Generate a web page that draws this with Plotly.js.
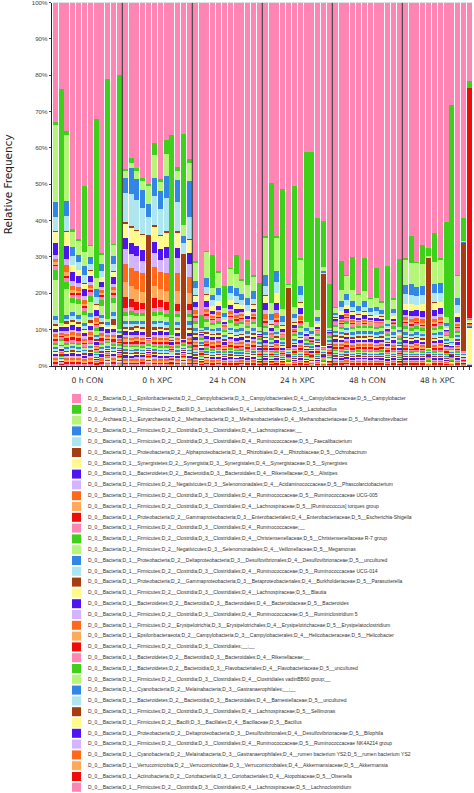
<!DOCTYPE html>
<html>
<head>
<meta charset="utf-8">
<script src="https://cdn.plot.ly/plotly-3.0.1.min.js"></script>
<style>
html,body{margin:0;padding:0;background:#ffffff;}
#chart{width:474px;height:793px;}
</style>
</head>
<body>
<div id="chart"></div>
<script>
// Sample groups (12 samples each) and taxa, top of the stack first
const groups = ['0 h CON', '0 h XPC', '24 h CON', '24 h XPC', '48 h CON', '48 h XPC'];
const samplesPerGroup = [12, 12, 12, 12, 12, 12];

const taxa = [
  'D_0__Bacteria;D_1__Epsilonbacteraeota;D_2__Campylobacteria;D_3__Campylobacterales;D_4__Campylobacteraceae;D_5__Campylobacter',
  'D_0__Bacteria;D_1__Firmicutes;D_2__Bacilli;D_3__Lactobacillales;D_4__Lactobacillaceae;D_5__Lactobacillus',
  'D_0__Archaea;D_1__Euryarchaeota;D_2__Methanobacteria;D_3__Methanobacteriales;D_4__Methanobacteriaceae;D_5__Methanobrevibacter',
  'D_0__Bacteria;D_1__Firmicutes;D_2__Clostridia;D_3__Clostridiales;D_4__Lachnospiraceae;__',
  'D_0__Bacteria;D_1__Firmicutes;D_2__Clostridia;D_3__Clostridiales;D_4__Ruminococcaceae;D_5__Faecalibacterium',
  'D_0__Bacteria;D_1__Proteobacteria;D_2__Alphaproteobacteria;D_3__Rhizobiales;D_4__Rhizobiaceae;D_5__Ochrobactrum',
  'D_0__Bacteria;D_1__Synergistetes;D_2__Synergistia;D_3__Synergistales;D_4__Synergistaceae;D_5__Synergistes',
  'D_0__Bacteria;D_1__Bacteroidetes;D_2__Bacteroidia;D_3__Bacteroidales;D_4__Rikenellaceae;D_5__Alistipes',
  'D_0__Bacteria;D_1__Firmicutes;D_2__Negativicutes;D_3__Selenomonadales;D_4__Acidaminococcaceae;D_5__Phascolarctobacterium',
  'D_0__Bacteria;D_1__Firmicutes;D_2__Clostridia;D_3__Clostridiales;D_4__Ruminococcaceae;D_5__Ruminococcaceae UCG-005',
  'D_0__Bacteria;D_1__Firmicutes;D_2__Clostridia;D_3__Clostridiales;D_4__Lachnospiraceae;D_5__[Ruminococcus] torques group',
  'D_0__Bacteria;D_1__Proteobacteria;D_2__Gammaproteobacteria;D_3__Enterobacteriales;D_4__Enterobacteriaceae;D_5__Escherichia-Shigella',
  'D_0__Bacteria;D_1__Firmicutes;D_2__Clostridia;D_3__Clostridiales;D_4__Ruminococcaceae;__',
  'D_0__Bacteria;D_1__Firmicutes;D_2__Clostridia;D_3__Clostridiales;D_4__Christensenellaceae;D_5__Christensenellaceae R-7 group',
  'D_0__Bacteria;D_1__Firmicutes;D_2__Negativicutes;D_3__Selenomonadales;D_4__Veillonellaceae;D_5__Megamonas',
  'D_0__Bacteria;D_1__Proteobacteria;D_2__Deltaproteobacteria;D_3__Desulfovibrionales;D_4__Desulfovibrionaceae;D_5__uncultured',
  'D_0__Bacteria;D_1__Firmicutes;D_2__Clostridia;D_3__Clostridiales;D_4__Ruminococcaceae;D_5__Ruminococcaceae UCG-014',
  'D_0__Bacteria;D_1__Proteobacteria;D_2__Gammaproteobacteria;D_3__Betaproteobacteriales;D_4__Burkholderiaceae;D_5__Parasutterella',
  'D_0__Bacteria;D_1__Firmicutes;D_2__Clostridia;D_3__Clostridiales;D_4__Lachnospiraceae;D_5__Blautia',
  'D_0__Bacteria;D_1__Bacteroidetes;D_2__Bacteroidia;D_3__Bacteroidales;D_4__Bacteroidaceae;D_5__Bacteroides',
  'D_0__Bacteria;D_1__Firmicutes;D_2__Clostridia;D_3__Clostridiales;D_4__Ruminococcaceae;D_5__Ruminiclostridium 5',
  'D_0__Bacteria;D_1__Firmicutes;D_2__Erysipelotrichia;D_3__Erysipelotrichales;D_4__Erysipelotrichaceae;D_5__Erysipelatoclostridium',
  'D_0__Bacteria;D_1__Epsilonbacteraeota;D_2__Campylobacteria;D_3__Campylobacterales;D_4__Helicobacteraceae;D_5__Helicobacter',
  'D_0__Bacteria;D_1__Firmicutes;D_2__Clostridia;D_3__Clostridiales;__;__',
  'D_0__Bacteria;D_1__Bacteroidetes;D_2__Bacteroidia;D_3__Bacteroidales;D_4__Rikenellaceae;__',
  'D_0__Bacteria;D_1__Bacteroidetes;D_2__Bacteroidia;D_3__Flavobacteriales;D_4__Flavobacteriaceae;D_5__uncultured',
  'D_0__Bacteria;D_1__Firmicutes;D_2__Clostridia;D_3__Clostridiales;D_4__Clostridiales vadinBB60 group;__',
  'D_0__Bacteria;D_1__Cyanobacteria;D_2__Melainabacteria;D_3__Gastranaerophilales;__;__',
  'D_0__Bacteria;D_1__Bacteroidetes;D_2__Bacteroidia;D_3__Bacteroidales;D_4__Barnesiellaceae;D_5__uncultured',
  'D_0__Bacteria;D_1__Firmicutes;D_2__Clostridia;D_3__Clostridiales;D_4__Lachnospiraceae;D_5__Sellimonas',
  'D_0__Bacteria;D_1__Firmicutes;D_2__Bacilli;D_3__Bacillales;D_4__Bacillaceae;D_5__Bacillus',
  'D_0__Bacteria;D_1__Proteobacteria;D_2__Deltaproteobacteria;D_3__Desulfovibrionales;D_4__Desulfovibrionaceae;D_5__Bilophila',
  'D_0__Bacteria;D_1__Firmicutes;D_2__Clostridia;D_3__Clostridiales;D_4__Ruminococcaceae;D_5__Ruminococcaceae NK4A214 group',
  'D_0__Bacteria;D_1__Cyanobacteria;D_2__Melainabacteria;D_3__Gastranaerophilales;D_4__rumen bacterium YS2;D_5__rumen bacterium YS2',
  'D_0__Bacteria;D_1__Verrucomicrobia;D_2__Verrucomicrobiae;D_3__Verrucomicrobiales;D_4__Akkermansiaceae;D_5__Akkermansia',
  'D_0__Bacteria;D_1__Actinobacteria;D_2__Coriobacteriia;D_3__Coriobacteriales;D_4__Atopobiaceae;D_5__Olsenella',
  'D_0__Bacteria;D_1__Firmicutes;D_2__Clostridia;D_3__Clostridiales;D_4__Lachnospiraceae;D_5__Lachnoclostridium'
];

// 12-colour cycle used for the taxa
const palette = ['#ff85b5', '#3dd219', '#b5f57a', '#3286e6', '#aee6f0', '#a63c0f',
                 '#fffa8c', '#5014f0', '#d2b4ff', '#ff6919', '#ffaa5a', '#f00a0a'];

// Relative abundance (%) per sample, 6 groups x 12 samples
const campylobacter = [
  33,24,35,63,65,50,67,32,69,21,66,20,
  45.6,42.7,45.6,48,50,38.7,48.5,37.5,36.5,45,36,43,
  71,85.5,68.5,69.2,74,78,73,69.2,76,70.6,75,76.8,
  64,49.3,64,51,77.2,50.5,70,41,41,59.3,60,77,
  83.7,70.8,75,69.7,80,70,81,72.8,82,72.4,81,70.3,
  70,64,71,66.7,67.2,63.4,70,60.3,28,75,59,21.5];
const lactobacillus = [
  0.8,65,1,0.8,0.5,18,0.5,44,0.4,66,0.5,70,
  0.6,1.3,0.8,0.8,0.5,3.1,0.8,4,55,1,25,1,
  0.5,3.8,0.4,9,0.5,6,0.5,5,0.4,7,0.5,12,
  0.5,33,0.5,33,0.4,33,0.5,47,48,25,12.5,12,
  0.2,8,0.3,9,0.3,9,0.3,8,0.3,15,0.3,18.5,
  0.4,7.4,0.4,5,2.3,8,0.4,26,64,0.4,6.4,2];
const methanobrevibacter = [
  21,0.3,18,4,4,4,3,3,2.5,0.8,3,0.5,
  2,1.5,2,2.5,5,6.4,2.5,6,0.5,2.5,3,4.8,
  5,0.5,7,2,4,1.5,4.5,4,3.5,3.5,4,1,
  10,3,9,2,0.3,2,7,1.5,1.2,2,1,0.6,
  1.5,3,5,3,3,3,2.5,2.5,2,1,2.5,1,
  7,6,6.5,6,0.3,6,6.5,1.5,1,6,0.3,0];
const lachnospiraceaeNA = [
  4.4,0.2,4,2.5,2,2.5,2,2,2,0.8,2.2,0.4,
  4,7,6,5,3.5,5,5,6,0.3,6,2,10,
  2,0.3,2.5,1.5,2,1,2,2.2,1.8,2,2,0.4,
  3,1.5,3,1.5,0.2,1.2,2.5,0.8,0.8,1.2,0.5,0.3,
  0.6,1.5,1.5,1.5,1.2,1.5,1.1,1.2,1,0.6,1.1,0.5,
  2.5,2.8,2.5,2.5,0.1,2.5,2.5,0.8,0.5,2,0.2,0];
const faecalibacterium = [
  3.6,0.2,4,2.5,2,2,1.5,2,1.5,0.5,1.8,0.3,
  8,9,8,7,5,8,7,9,0.5,8,3,6,
  2,0.3,2,1.5,1.5,0.8,1.8,1.8,1.3,1.5,1.5,0.3,
  2.5,1.2,3,1,0.2,1,2,0.6,0.5,0.8,0.5,0.2,
  0.5,1.2,1.5,1.2,1,1.2,0.9,1,0.8,0.5,0.9,0.4,
  2.5,2.5,2.3,2.5,0.1,2.5,2.5,0.6,0.4,2,0.1,0];
const ochrobactrum = [
  0.3,0.1,0.3,0.2,0.2,0.2,0.2,0.2,0.2,0.1,0.2,0.1,
  0.5,0.5,0.4,0.4,28.2,0.5,0.4,0.5,0.1,0.5,23.4,0.4,
  0.2,0.1,0.2,0.1,0.2,0.1,0.2,0.2,0.1,0.1,0.1,0.1,
  0.3,0.2,0.2,0.2,16.2,0.2,0.2,0.1,0.1,0.1,19.7,0.1,
  0.1,0.1,0.1,0.1,0.1,0.1,0.1,0.1,0.1,0.1,0.1,0.1,
  0.2,0.2,0.2,0.2,24.8,0.2,0.2,0.1,0.1,0.1,29.5,0];
const synergistes = [
  3.2,0.1,4,2,1.5,1.5,1.5,1.5,1.2,0.4,1.5,0.3,
  4,4,4,4,0.2,4,3.5,4,0.3,4,0.3,3.5,
  1.5,0.2,1.8,1.2,1.2,0.6,1.2,1.5,1,1.2,1.1,0.2,
  2,0.8,2.5,0.7,0.1,0.7,1.5,0.3,0.3,0.6,0.1,0.1,
  0.4,1,1,1,0.8,1,0.7,0.8,0.6,0.3,0.7,0.2,
  1.5,1.8,1.4,1.8,0.1,2,1.6,0.4,0.2,1.2,0.1,0];
const alistipes = [
  3.2,1.2,3.5,2.5,2,2,1.6,1.5,1.5,1.2,1.8,0.8,
  3,3,3,3,0.3,3,3,3,0.8,3,0.4,3,
  1.5,0.3,1.5,1,1.2,0.6,1.2,1.2,1,0.9,1,0.3,
  2,1,2,1,0.1,0.8,1.5,0.5,0.6,0.7,0.2,0.2,
  0.4,1,1,1,0.7,0.9,0.6,0.7,0.5,0.4,0.6,0.2,
  1.5,1.5,1.4,1.6,0.1,1.6,1.6,0.4,0.3,1.2,0.1,0];
const phascolarctobacterium = [
  1,0.5,1.5,1.2,1,1,0.8,0.8,0.7,0.5,0.8,0.4,
  4,4,4,3.5,0.2,4,3.5,4,0.5,4,0.1,3.5,
  0.8,0.1,0.7,0.4,0.5,0.3,0.6,0.5,0.4,0.3,0.4,0.1,
  1,0.4,1,0.3,0,0.3,0.7,0.1,0.1,0.2,0,0.1,
  0.2,0.4,0.4,0.4,0.3,0.4,0.2,0.3,0.2,0.1,0.2,0.1,
  0.6,0.7,0.6,0.7,0,0.7,0.7,0.1,0.1,0.5,0,0];
const ucg005 = [
  1,0.6,2,1.3,1.2,1,1,1,0.9,0.6,1,0.5,
  5,5,5,5,0.3,5,4.5,5,0.5,5,0.1,4.5,
  1,0.2,0.9,0.6,0.8,0.4,0.8,0.7,0.6,0.5,0.6,0.1,
  1.2,0.6,1.2,0.4,0,0.4,0.9,0.2,0.2,0.3,0.1,0.1,
  0.2,0.5,0.5,0.5,0.3,0.5,0.3,0.4,0.3,0.2,0.3,0.1,
  0.8,0.9,0.8,0.9,0,1,0.9,0.2,0.1,0.6,0,0];
const torques = [
  0.8,0.4,1,0.7,0.6,0.6,0.5,0.5,0.5,0.4,0.6,0.2,
  4,3.5,3.5,3,0.2,3.5,3,3,0.3,3.5,0,3,
  0.7,0.1,0.5,0.3,0.5,0.2,0.4,0.4,0.4,0.2,0.4,0.1,
  0.8,0.2,0.6,0.2,0,0.2,0.5,0.1,0.2,0.2,0,0,
  0.1,0.3,0.3,0.3,0.2,0.3,0.2,0.2,0.1,0.1,0.1,0,
  0.5,0.6,0.4,0.6,0,0.5,0.5,0.1,0.1,0.4,0,0];
const escherichia = [
  0.3,0.2,0.5,0.5,0.5,0.5,0.5,0.4,0.5,0.3,0.6,0.2,
  3,2.2,2.2,1.7,0.1,2.8,2.1,2.3,0.2,1.8,0,1.5,
  0.5,0.1,0.4,0.3,0.4,0.2,0.4,0.4,0.3,0.2,0.4,0.1,
  0.5,0.2,0.5,0.1,0,0.1,0.4,0.1,0.1,0.1,0,0,
  0,0.3,0.3,0.2,0.1,0.2,0.1,0.1,0.1,0,0.1,0,
  0.3,0.4,0.3,0.4,0,0.4,0.4,0,0,0.3,0,63.5];
const ruminococcaceaeNA = [
  1.0,0.6,1.2,0.8,1.0,0.9,1.1,0.7,1.0,0.5,0.9,0.4,
  1.2,1.0,0.9,1.1,0.6,1.0,1.2,0.9,0.3,1.0,0.5,1.1,
  0.8,0.4,0.9,0.7,0.8,0.5,0.9,0.7,0.8,0.7,0.8,0.4,
  0.7,0.5,0.8,0.5,0.4,0.6,0.8,0.4,0.4,0.6,0.4,0.5,
  0.6,0.7,0.8,0.7,0.6,0.7,0.6,0.7,0.6,0.5,0.7,0.5,
  0.8,0.7,0.8,0.6,0.3,0.7,0.8,0.6,0.3,0.7,0.3,0.2];
const christensenellaceae = [
  2.8,0.5,2.0,1.5,1.5,1.2,1.8,0.8,1.6,0.5,1.4,0.4,
  1.0,1.2,0.8,1.0,0.4,1.1,0.9,1.0,0.3,0.8,0.4,0.9,
  0.8,0.5,0.9,0.7,0.8,0.6,0.8,0.7,0.8,0.6,0.7,0.5,
  0.7,0.5,0.8,0.5,0.3,0.6,0.7,0.5,0.4,0.5,0.3,0.5,
  0.7,0.6,0.8,0.7,0.7,0.6,0.7,0.6,0.7,0.5,0.7,0.5,
  0.7,0.6,0.7,0.6,0.2,0.6,0.7,0.5,0.3,0.5,0.2,0.2];
const megamonas = [
  10,1.0,7,2.5,3,2,3,1.2,2.5,0.8,2.5,0.6,
  1.5,1.5,1.2,1.4,0.6,1.3,1.5,1.2,0.4,1.3,0.5,1.2,
  1.2,0.6,1.3,1.0,1.1,0.8,1.2,1.0,1.1,0.9,1.0,0.6,
  1.0,0.6,1.1,0.6,0.4,0.7,1.0,0.5,0.5,0.7,0.4,0.6,
  1.0,0.8,1.0,0.9,0.9,0.8,0.9,0.8,0.9,0.6,0.9,0.6,
  0.9,0.8,0.9,0.8,0.3,0.8,0.9,0.7,0.4,0.7,0.3,0.3];
const desulfoUncultured = [
  1.1,0.4,0.9,1.2,1.0,0.8,1.1,0.6,0.9,0.4,1.0,0.3,
  0.8,1.0,0.9,0.8,0.4,1.0,0.8,0.9,0.2,0.9,0.3,1.0,
  0.7,0.5,0.8,0.7,0.8,0.6,0.7,0.8,0.7,0.7,0.8,0.5,
  0.7,0.5,0.6,0.5,0.3,0.6,0.7,0.4,0.4,0.5,0.3,0.6,
  0.7,0.6,0.8,0.7,0.7,0.7,0.6,0.7,0.8,0.5,0.7,0.5,
  0.7,0.6,0.7,0.7,0.3,0.6,0.7,0.5,0.3,0.6,0.2,0.2];
const ucg014 = [
  0.9,0.4,0.8,1.0,0.9,0.8,0.9,0.5,0.9,0.3,0.8,0.3,
  0.8,0.9,0.7,0.8,0.3,0.8,0.9,0.8,0.2,0.8,0.3,0.9,
  0.7,0.4,0.7,0.6,0.7,0.5,0.7,0.6,0.7,0.6,0.7,0.4,
  0.6,0.4,0.7,0.4,0.3,0.5,0.6,0.4,0.4,0.5,0.3,0.5,
  0.6,0.6,0.7,0.6,0.6,0.7,0.6,0.6,0.6,0.5,0.6,0.4,
  0.6,0.6,0.6,0.6,0.3,0.6,0.6,0.5,0.3,0.5,0.2,0.2];
const parasutterella = [
  0.6,0.2,0.6,0.7,0.6,0.5,0.6,0.4,0.6,0.2,1.8,0.2,
  0.5,0.6,0.5,0.5,0.2,0.6,0.5,0.5,0.1,0.5,0.2,0.5,
  0.4,0.3,0.5,0.4,0.4,0.4,0.5,0.4,0.4,0.4,0.4,0.3,
  0.4,0.3,0.4,0.3,0.2,0.3,0.4,0.3,0.2,0.3,0.2,0.3,
  0.4,0.4,0.5,0.4,0.4,0.4,0.4,0.4,0.4,0.3,0.4,0.3,
  0.4,0.4,0.4,0.4,0.2,0.4,0.4,0.3,0.2,0.4,0.1,0.1];
const blautia = [
  0.8,0.3,0.9,0.7,0.8,0.7,0.8,0.5,0.8,0.3,0.9,0.3,
  0.7,0.7,0.8,0.7,0.3,0.7,0.8,0.7,0.2,0.7,0.3,0.7,
  0.6,0.4,0.6,0.6,0.6,0.5,0.6,0.6,0.6,0.6,0.6,0.4,
  0.6,0.4,0.5,0.4,0.2,0.4,0.6,0.4,0.3,0.4,0.2,0.4,
  0.6,0.6,0.6,0.5,0.6,0.5,0.6,0.6,0.5,0.4,0.6,0.4,
  0.6,0.5,0.6,0.5,0.2,0.5,0.6,0.4,0.2,0.5,0.2,0.2];
const bacteroides = [
  0.9,0.5,1.0,1.3,1.1,0.9,1.2,0.6,1.1,0.4,0.9,0.4,
  0.9,0.8,1.0,0.9,0.3,0.8,1.0,0.8,0.3,0.9,0.4,0.8,
  0.8,0.5,0.7,0.8,0.7,0.6,0.8,0.7,0.8,0.7,0.7,0.5,
  0.7,0.5,0.8,0.5,0.3,0.5,0.7,0.5,0.4,0.6,0.3,0.5,
  0.8,0.7,0.7,0.7,0.6,0.7,0.8,0.7,0.6,0.6,0.7,0.5,
  0.7,0.7,0.6,0.6,0.3,0.7,0.6,0.6,0.3,0.6,0.3,0.2];
const ruminiclostridium5 = [
  0.7,0.3,0.8,0.7,0.6,0.6,0.7,0.4,0.7,0.3,0.7,0.2,
  0.6,0.7,0.6,0.7,0.2,0.6,0.7,0.6,0.2,0.6,0.3,0.6,
  0.5,0.4,0.6,0.5,0.5,0.4,0.6,0.5,0.5,0.5,0.5,0.4,
  0.5,0.3,0.5,0.4,0.2,0.4,0.5,0.3,0.3,0.4,0.2,0.4,
  0.5,0.5,0.5,0.5,0.5,0.5,0.5,0.5,0.5,0.4,0.5,0.3,
  0.5,0.5,0.5,0.4,0.2,0.5,0.5,0.4,0.2,0.4,0.2,0.1];
const erysipelatoclostridium = [
  0.6,0.3,0.7,0.8,0.7,0.6,0.8,0.4,0.7,0.3,0.6,0.3,
  0.7,0.6,0.6,0.6,0.3,0.7,0.6,0.7,0.2,0.6,0.2,0.7,
  0.5,0.3,0.5,0.6,0.5,0.4,0.5,0.5,0.6,0.5,0.5,0.3,
  0.5,0.4,0.5,0.3,0.2,0.4,0.5,0.3,0.3,0.4,0.2,0.4,
  0.5,0.5,0.6,0.5,0.5,0.5,0.5,0.4,0.5,0.4,0.5,0.4,
  0.5,0.4,0.5,0.5,0.2,0.4,0.5,0.4,0.2,0.4,0.2,0.1];
const helicobacter = [
  0.6,0.3,0.5,0.6,0.7,0.5,0.6,0.4,0.6,0.2,0.6,0.2,
  0.6,0.5,0.6,0.5,0.2,0.5,0.6,0.5,0.2,0.5,0.2,0.5,
  0.5,0.3,0.4,0.5,0.4,0.4,0.4,0.5,0.4,0.4,0.5,0.3,
  0.4,0.3,0.4,0.3,0.2,0.3,0.4,0.3,0.2,0.3,0.2,0.3,
  0.4,0.4,0.5,0.4,0.4,0.4,0.4,0.4,0.4,0.3,0.4,0.3,
  0.4,0.4,0.4,0.4,0.2,0.4,0.4,0.3,0.2,0.4,0.1,0.1];
const clostridialesNA = [
  0.6,0.3,0.7,0.9,0.7,0.5,0.8,0.4,0.8,0.3,0.7,0.2,
  0.6,0.6,0.7,0.6,0.2,0.6,0.6,0.6,0.2,0.6,0.2,0.6,
  0.5,0.4,0.6,0.5,0.6,0.4,0.5,0.5,0.5,0.5,0.6,0.3,
  0.5,0.3,0.5,0.3,0.2,0.4,0.5,0.3,0.3,0.4,0.2,0.4,
  0.5,0.5,0.5,0.5,0.5,0.5,0.5,0.5,0.5,0.4,0.5,0.3,
  0.5,0.4,0.5,0.4,0.2,0.5,0.5,0.4,0.2,0.4,0.2,0.1];
const rikenellaceaeNA = [
  0.6,0.2,0.7,0.6,0.6,0.6,0.6,0.4,0.6,0.3,0.6,0.2,
  0.5,0.5,0.5,0.6,0.2,0.5,0.5,0.6,0.1,0.5,0.2,0.5,
  0.4,0.3,0.5,0.4,0.5,0.3,0.4,0.4,0.5,0.4,0.4,0.3,
  0.4,0.3,0.4,0.3,0.2,0.3,0.4,0.3,0.2,0.3,0.2,0.3,
  0.4,0.4,0.4,0.4,0.4,0.4,0.4,0.4,0.4,0.3,0.4,0.3,
  0.4,0.4,0.4,0.4,0.2,0.4,0.4,0.3,0.2,0.3,0.2,0.1];
const flavoUncultured = [
  0.5,0.2,0.5,0.5,0.5,0.4,0.5,0.3,0.5,0.2,0.5,0.2,
  0.4,0.5,0.4,0.5,0.2,0.4,0.5,0.4,0.1,0.4,0.2,0.5,
  0.4,0.2,0.4,0.4,0.4,0.3,0.4,0.4,0.4,0.3,0.4,0.2,
  0.3,0.2,0.4,0.2,0.1,0.3,0.3,0.2,0.2,0.3,0.1,0.3,
  0.3,0.4,0.4,0.3,0.4,0.3,0.4,0.3,0.4,0.3,0.3,0.2,
  0.3,0.3,0.4,0.3,0.1,0.3,0.4,0.3,0.1,0.3,0.1,0.1];
const vadinBB60 = [
  0.6,0.3,0.6,0.5,0.6,0.5,0.6,0.4,0.6,0.2,0.5,0.2,
  0.5,0.6,0.5,0.5,0.2,0.5,0.5,0.5,0.2,0.6,0.2,0.5,
  0.5,0.3,0.4,0.4,0.4,0.4,0.5,0.4,0.4,0.4,0.4,0.3,
  0.4,0.3,0.4,0.3,0.2,0.3,0.4,0.3,0.2,0.3,0.2,0.3,
  0.4,0.4,0.4,0.4,0.4,0.4,0.4,0.4,0.4,0.3,0.4,0.3,
  0.4,0.4,0.4,0.4,0.2,0.4,0.4,0.3,0.2,0.4,0.1,0.1];
const gastranaerophilalesNA = [
  0.5,0.2,0.4,0.6,0.5,0.4,0.5,0.3,0.5,0.2,0.4,0.2,
  0.5,0.4,0.5,0.4,0.2,0.5,0.4,0.4,0.1,0.5,0.2,0.4,
  0.4,0.2,0.4,0.3,0.4,0.3,0.4,0.3,0.4,0.3,0.4,0.2,
  0.3,0.2,0.3,0.3,0.1,0.3,0.3,0.2,0.2,0.3,0.1,0.3,
  0.4,0.3,0.4,0.3,0.3,0.4,0.3,0.3,0.4,0.3,0.3,0.3,
  0.3,0.3,0.3,0.3,0.1,0.3,0.3,0.3,0.1,0.3,0.1,0.1];
const barnesiellaceae = [
  0.5,0.2,0.5,0.4,0.5,0.5,0.4,0.3,0.5,0.2,0.5,0.2,
  0.4,0.5,0.4,0.4,0.2,0.4,0.4,0.5,0.1,0.4,0.2,0.4,
  0.3,0.2,0.4,0.4,0.3,0.3,0.4,0.4,0.3,0.4,0.3,0.2,
  0.3,0.2,0.3,0.2,0.1,0.3,0.3,0.2,0.2,0.2,0.1,0.2,
  0.3,0.3,0.4,0.3,0.3,0.3,0.3,0.3,0.3,0.3,0.3,0.2,
  0.3,0.3,0.3,0.3,0.1,0.3,0.3,0.2,0.1,0.3,0.1,0.1];
const sellimonas = [
  0.4,0.2,0.5,0.5,0.4,0.4,0.5,0.3,0.5,0.2,0.4,0.2,
  0.5,0.4,0.4,0.4,0.2,0.5,0.4,0.4,0.1,0.4,0.2,0.4,
  0.4,0.2,0.3,0.4,0.4,0.3,0.4,0.3,0.4,0.3,0.4,0.2,
  0.3,0.2,0.3,0.2,0.1,0.2,0.3,0.2,0.2,0.3,0.1,0.2,
  0.3,0.3,0.4,0.3,0.3,0.3,0.4,0.3,0.3,0.3,0.3,0.2,
  0.3,0.3,0.3,0.3,0.1,0.3,0.3,0.3,0.1,0.3,0.1,0.1];
const bacillus = [
  0.5,0.2,0.5,0.5,0.5,0.4,0.5,0.3,0.5,0.2,0.5,0.2,
  0.4,0.4,0.5,0.4,0.2,0.4,0.5,0.4,0.1,0.4,0.2,0.4,
  0.4,0.2,0.4,0.3,0.4,0.3,0.4,0.4,0.3,0.4,0.4,0.2,
  0.3,0.2,0.3,0.2,0.1,0.3,0.3,0.2,0.2,0.3,0.1,0.3,
  0.3,0.4,0.3,0.3,0.4,0.3,0.3,0.3,0.4,0.3,0.3,0.2,
  0.3,0.3,0.3,0.3,0.1,0.3,0.3,0.3,0.1,0.3,0.1,10.0];
const bilophila = [
  0.6,0.3,0.6,0.7,0.6,0.5,0.7,0.4,0.6,0.2,0.6,0.2,
  0.6,0.5,0.5,0.5,0.2,0.5,0.5,0.5,0.2,0.5,0.2,0.5,
  0.4,0.3,0.5,0.4,0.5,0.4,0.5,0.4,0.4,0.4,0.5,0.3,
  0.4,0.3,0.4,0.3,0.2,0.3,0.4,0.3,0.2,0.3,0.2,0.3,
  0.5,0.4,0.5,0.4,0.4,0.4,0.4,0.4,0.4,0.3,0.4,0.3,
  0.4,0.4,0.4,0.4,0.2,0.4,0.4,0.3,0.2,0.4,0.1,0.1];
const nk4a214 = [
  0.5,0.2,0.5,0.5,0.5,0.4,0.5,0.3,0.5,0.2,0.5,0.2,
  0.5,0.5,0.4,0.5,0.2,0.5,0.4,0.5,0.1,0.4,0.2,0.5,
  0.4,0.2,0.4,0.4,0.3,0.3,0.4,0.4,0.4,0.3,0.4,0.2,
  0.3,0.2,0.3,0.2,0.1,0.3,0.3,0.2,0.2,0.2,0.1,0.2,
  0.4,0.3,0.4,0.3,0.3,0.4,0.3,0.4,0.3,0.3,0.3,0.2,
  0.3,0.3,0.3,0.3,0.1,0.3,0.3,0.3,0.1,0.3,0.1,0.1];
const rumenYS2 = [
  0.6,0.2,0.6,0.6,0.6,0.5,0.6,0.3,0.6,0.2,0.6,0.2,
  0.5,0.5,0.6,0.5,0.2,0.6,0.5,0.5,0.1,0.5,0.2,0.5,
  0.4,0.3,0.4,0.5,0.4,0.4,0.4,0.4,0.4,0.4,0.4,0.3,
  0.4,0.3,0.4,0.3,0.2,0.3,0.4,0.3,0.2,0.3,0.2,0.3,
  0.4,0.4,0.4,0.4,0.4,0.4,0.4,0.4,0.4,0.3,0.4,0.3,
  0.4,0.4,0.4,0.4,0.2,0.4,0.4,0.3,0.2,0.4,0.1,0.1];
const akkermansia = [
  0.5,0.2,0.4,0.5,0.5,0.4,0.5,0.3,0.4,0.2,0.5,0.2,
  0.4,0.4,0.5,0.4,0.2,0.4,0.5,0.4,0.1,0.4,0.2,0.4,
  0.3,0.2,0.4,0.3,0.4,0.3,0.3,0.4,0.3,0.3,0.4,0.2,
  0.3,0.2,0.3,0.2,0.1,0.2,0.3,0.2,0.2,0.3,0.1,0.2,
  0.3,0.3,0.3,0.3,0.4,0.3,0.3,0.3,0.3,0.3,0.3,0.2,
  0.3,0.3,0.3,0.3,0.1,0.3,0.3,0.2,0.1,0.3,0.1,0.1];
const olsenella = [
  0.5,0.2,0.5,0.6,0.5,0.4,0.6,0.3,0.5,0.2,0.5,0.2,
  0.4,0.4,0.4,0.5,0.2,0.4,0.4,0.4,0.1,0.4,0.2,0.4,
  0.4,0.2,0.4,0.4,0.4,0.3,0.4,0.3,0.4,0.3,0.4,0.2,
  0.3,0.2,0.3,0.2,0.1,0.3,0.3,0.2,0.2,0.3,0.1,0.2,
  0.3,0.3,0.4,0.3,0.3,0.3,0.3,0.3,0.3,0.3,0.3,0.2,
  0.3,0.3,0.3,0.3,0.1,0.3,0.3,0.2,0.1,0.3,0.1,0.1];
const lachnoclostridium = [
  0.6,0.3,0.6,0.6,0.6,0.5,0.6,0.4,0.6,0.2,0.6,0.2,
  0.5,0.5,0.5,0.5,0.2,0.5,0.5,0.5,0.2,0.5,0.2,0.5,
  0.5,0.3,0.5,0.4,0.5,0.4,0.4,0.4,0.5,0.4,0.4,0.3,
  0.4,0.3,0.4,0.3,0.2,0.3,0.4,0.3,0.2,0.3,0.2,0.3,
  0.4,0.4,0.5,0.4,0.4,0.4,0.4,0.4,0.4,0.3,0.4,0.3,
  0.4,0.4,0.4,0.4,0.2,0.4,0.4,0.3,0.2,0.4,0.2,0.1];

// Same order as taxa (top of stack first)
const abundance = [
  campylobacter, lactobacillus, methanobrevibacter, lachnospiraceaeNA, faecalibacterium,
  ochrobactrum, synergistes, alistipes, phascolarctobacterium, ucg005, torques, escherichia,
  ruminococcaceaeNA, christensenellaceae, megamonas, desulfoUncultured, ucg014, parasutterella,
  blautia, bacteroides, ruminiclostridium5, erysipelatoclostridium, helicobacter, clostridialesNA,
  rikenellaceaeNA, flavoUncultured, vadinBB60, gastranaerophilalesNA, barnesiellaceae, sellimonas,
  bacillus, bilophila, nk4a214, rumenYS2, akkermansia, olsenella, lachnoclostridium
];

// ---- geometry of the figure (pixels) ----
const W = 474, H = 793;
const PLOT_L = 52.3, PLOT_R = 472.3, PLOT_T = 2.5, PLOT_B = 366;
const LEG_TOP = 390, LEG_FIRST = 398.5, LEG_STEP = 10.8;
const SWATCH_X = 76.5, LABEL_X = 88;

const nBars = samplesPerGroup.reduce((a, b) => a + b, 0);
const xs = Array.from({length: nBars}, (_, i) => i);
const centers = [], bounds = [];
let acc = 0;
samplesPerGroup.forEach((n, g) => {
  if (g > 0) bounds.push(acc - 0.5);
  centers.push(acc + (n - 1) / 2);
  acc += n;
});

const traces = [];
// Plotly stacks the first trace at the bottom, so add the taxa in reverse
for (let i = taxa.length - 1; i >= 0; i--) {
  traces.push({
    type: 'bar', x: xs, y: abundance[i], name: taxa[i],
    marker: {color: palette[i % palette.length], line: {width: 0}},
    xaxis: 'x', yaxis: 'y', hoverinfo: 'skip', showlegend: false
  });
}

// Legend drawn as a small scatter panel under the bars
const legIdx = taxa.map((_, i) => i);
traces.push({
  type: 'scatter', mode: 'markers', xaxis: 'x2', yaxis: 'y2',
  x: taxa.map(() => SWATCH_X), y: legIdx,
  marker: {symbol: 'square', size: 9, color: taxa.map((_, i) => palette[i % palette.length]), line: {width: 0}},
  hoverinfo: 'skip', showlegend: false
});
traces.push({
  type: 'scatter', mode: 'text', xaxis: 'x2', yaxis: 'y2',
  x: taxa.map(() => LABEL_X), y: legIdx, text: taxa,
  textposition: 'middle right',
  textfont: {family: 'Liberation Sans, Arial, sans-serif', size: 5.0, color: '#333333'},
  hoverinfo: 'skip', showlegend: false, cliponaxis: false
});

const shapes = bounds.map(b => ({
  type: 'line', xref: 'x', yref: 'y', x0: b, x1: b, y0: 0, y1: 100,
  line: {color: '#222222', width: 1}
}));
shapes.push({
  type: 'line', xref: 'x', yref: 'y', x0: -0.5, x1: nBars - 0.5, y0: 100, y1: 100,
  line: {color: '#b9c3c8', width: 1}
});

const layout = {
  width: W, height: H,
  margin: {l: 0, r: 0, t: 0, b: 0},
  paper_bgcolor: '#ffffff', plot_bgcolor: '#ffffff',
  barmode: 'stack', barnorm: 'percent', bargap: 0.14,
  showlegend: false,
  font: {family: 'DejaVu Sans, sans-serif', color: '#333333'},
  xaxis: {
    domain: [PLOT_L / W, PLOT_R / W], range: [-0.5, nBars - 0.5],
    tickmode: 'array', tickvals: centers, ticktext: groups, ticks: '',
    tickfont: {family: 'DejaVu Sans, sans-serif', size: 7.7, color: '#333333'},
    ticklabelstandoff: 7,
    minor: {tickmode: 'array', tickvals: xs, ticks: 'outside', ticklen: 3, tickwidth: 1, tickcolor: '#444444', showgrid: false},
    showgrid: false, zeroline: false, showline: true, linecolor: '#222222', linewidth: 1,
    fixedrange: true
  },
  yaxis: {
    domain: [1 - PLOT_B / H, 1 - PLOT_T / H], range: [0, 100],
    tick0: 0, dtick: 10, ticksuffix: '%', ticks: 'outside', ticklen: 2.5, tickwidth: 1, tickcolor: '#444444',
    tickfont: {family: 'Liberation Sans, Arial, sans-serif', size: 6.2, color: '#444444'},
    ticklabeloverflow: 'allow',
    showgrid: false, zeroline: false, showline: true, linecolor: '#222222', linewidth: 1,
    fixedrange: true
  },
  xaxis2: {domain: [0, 1], range: [0, W], visible: false, anchor: 'y2', fixedrange: true},
  yaxis2: {
    domain: [0, 1 - LEG_TOP / H],
    range: [(H - LEG_FIRST) / LEG_STEP, (LEG_TOP - LEG_FIRST) / LEG_STEP],
    visible: false, anchor: 'x2', fixedrange: true
  },
  shapes: shapes,
  annotations: [{
    text: 'Relative Frequency', xref: 'paper', yref: 'paper',
    x: 8 / W, y: 1 - ((PLOT_T + PLOT_B) / 2) / H, xanchor: 'center', yanchor: 'middle',
    textangle: -90, showarrow: false,
    font: {family: 'DejaVu Sans, sans-serif', size: 10.5, color: '#222222'}
  }]
};

Plotly.newPlot('chart', traces, layout, {displayModeBar: false, staticPlot: true});
</script>
</body>
</html>
